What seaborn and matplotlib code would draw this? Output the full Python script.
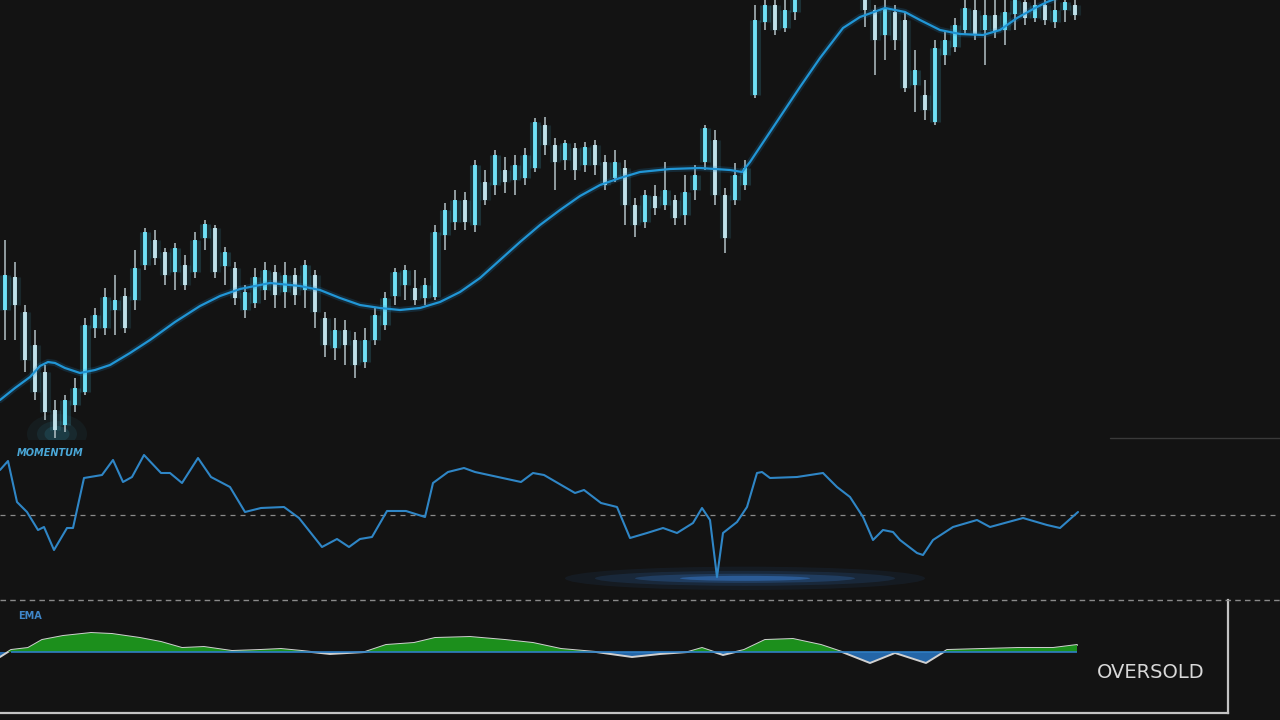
import matplotlib
matplotlib.use("Agg")
import numpy as np
import pandas as pd
import matplotlib.pyplot as plt
import seaborn as sns
from matplotlib.patches import Ellipse
from matplotlib.lines import Line2D

# candle data (one bar per session)
opens = [33.0, 36.3, 32.8, 29.5, 26.8, 23.0, 21.5, 23.5, 24.8, 31.2,
         31.2, 33.0, 34.4, 34.0, 37.5, 40.0, 38.8, 36.8, 37.5, 36.8,
         40.2, 41.2, 37.4, 37.2, 33.0, 33.7, 35.0, 36.8, 34.8, 36.5,
         35.0, 36.5, 32.2, 29.2, 31.0, 30.0, 27.8, 30.0, 31.5, 34.4,
         35.5, 35.2, 34.2, 34.3, 40.5, 41.8, 44.0, 41.5, 45.8, 45.5,
         47.0, 46.0, 46.2, 47.2, 51.5, 49.5, 48.0, 49.2, 47.5, 49.5,
         47.8, 46.2, 47.2, 43.5, 41.8, 44.4, 43.5, 44.0, 42.5, 45.0,
         47.8, 50.0, 44.5, 44.0, 45.5, 54.5, 61.8, 63.5, 61.2, 62.8,
         65.0, 67.0, 68.5, 68.0, 69.5, 67.5, 65.5, 63.0, 60.5, 62.8,
         62.0, 55.5, 54.5, 51.8, 58.5, 59.3, 61.0, 63.0, 61.0, 62.5,
         61.0, 62.6, 63.8, 62.2, 63.5, 61.8, 63.0, 63.5]
highs = [40.0, 37.8, 33.5, 31.0, 27.5, 24.0, 24.5, 26.2, 32.2, 33.2,
         35.2, 36.5, 35.2, 39.0, 41.2, 41.0, 39.2, 39.7, 38.5, 40.8,
         42.0, 41.5, 39.3, 37.8, 35.5, 37.2, 37.8, 37.5, 37.8, 37.2,
         38.0, 37.0, 32.8, 32.2, 32.0, 30.8, 31.2, 33.2, 34.8, 37.2,
         37.5, 37.0, 36.2, 41.5, 43.7, 45.0, 44.8, 48.0, 47.0, 49.0,
         48.3, 48.5, 49.2, 52.2, 52.3, 50.2, 50.0, 49.7, 49.8, 50.0,
         48.5, 49.0, 48.0, 44.2, 45.0, 45.5, 47.8, 44.5, 46.5, 47.5,
         51.5, 51.0, 45.2, 47.7, 48.0, 63.5, 65.0, 64.5, 65.5, 66.5,
         68.5, 70.0, 71.0, 71.5, 71.0, 69.0, 67.0, 63.5, 64.0, 63.5,
         62.8, 59.0, 56.0, 60.0, 61.0, 62.2, 64.0, 64.5, 64.2, 64.0,
         64.5, 65.0, 64.8, 64.5, 64.5, 64.3, 64.8, 64.5]
lows = [30.0, 30.0, 26.8, 24.0, 22.0, 20.2, 20.8, 22.8, 24.5, 30.2,
        30.5, 30.5, 30.7, 33.0, 37.0, 37.5, 35.5, 35.0, 35.0, 36.2,
        39.0, 36.2, 35.5, 33.5, 32.2, 33.2, 34.0, 33.2, 33.2, 33.5,
        33.2, 31.2, 28.3, 28.0, 27.5, 26.2, 27.2, 29.5, 31.0, 33.5,
        34.0, 33.5, 33.5, 34.0, 39.0, 41.0, 41.0, 40.8, 43.5, 44.5,
        44.7, 44.5, 45.5, 46.8, 48.5, 45.0, 47.0, 46.0, 46.8, 46.5,
        45.0, 45.8, 41.5, 40.3, 41.2, 42.5, 43.0, 41.5, 41.5, 44.0,
        47.0, 43.5, 38.7, 43.5, 45.0, 54.2, 61.0, 60.5, 60.8, 62.0,
        64.5, 66.0, 66.5, 67.0, 65.5, 64.5, 61.3, 56.5, 58.0, 59.0,
        54.8, 52.8, 52.0, 51.5, 57.5, 58.8, 60.5, 60.0, 57.5, 60.2,
        59.5, 61.0, 61.5, 61.8, 61.5, 61.2, 61.8, 62.0]
closes = [36.5, 33.5, 28.0, 24.8, 22.8, 21.0, 24.0, 25.2, 31.5, 32.5,
          34.3, 34.0, 31.2, 37.2, 40.8, 38.2, 36.5, 39.2, 35.5, 40.0,
          41.6, 36.8, 38.8, 34.2, 34.8, 36.3, 37.0, 34.5, 36.5, 34.5,
          37.5, 32.8, 29.5, 31.0, 29.5, 27.5, 30.0, 32.5, 34.2, 36.8,
          37.0, 34.0, 35.5, 40.8, 43.0, 44.0, 41.8, 47.5, 44.0, 48.5,
          45.8, 47.5, 48.5, 51.8, 49.5, 47.8, 49.7, 47.0, 49.3, 47.5,
          45.5, 47.8, 43.5, 41.5, 44.5, 43.2, 45.0, 42.2, 44.8, 46.5,
          51.2, 44.5, 40.2, 46.5, 47.2, 62.0, 63.5, 61.0, 63.0, 65.0,
          67.0, 68.5, 68.0, 69.5, 67.5, 66.0, 63.0, 60.0, 63.2, 60.0,
          55.2, 57.0, 53.0, 59.2, 60.0, 61.5, 63.2, 60.5, 62.5, 60.8,
          62.8, 64.0, 62.2, 63.5, 62.0, 63.0, 63.8, 62.5]

# smoothed moving average
ma_bar = [-0.5, 1.0, 2.5, 3.5, 4.3, 5.0, 6.0, 7.5, 9.0, 10.5, 12.5, 14.5,
          17.0, 19.5, 21.5, 23.5, 26.5, 29.5, 31.5, 33.5, 35.5, 37.5, 39.5,
          41.5, 43.5, 45.5, 47.5, 49.5, 51.5, 53.5, 55.5, 57.5, 59.5, 61.5,
          63.5, 66.5, 69.5, 72.5, 73.7, 74.5, 75.5, 77.5, 79.5, 81.5, 83.8,
          85.5, 88.0, 90.0, 91.5, 93.5, 95.5, 97.8, 99.5, 101.2, 103.0,
          104.2, 105.5]
ma_price = [24.0, 25.2, 26.3, 27.4, 27.8, 27.7, 27.2, 26.7, 27.0, 27.5, 28.7,
            30.0, 31.8, 33.4, 34.4, 35.1, 35.7, 35.4, 35.0, 34.2, 33.5, 33.2,
            33.0, 33.2, 33.8, 34.8, 36.2, 38.0, 39.8, 41.5, 43.0, 44.4, 45.5,
            46.2, 46.8, 47.1, 47.2, 47.0, 46.8, 47.8, 49.3, 52.3, 55.3, 58.2,
            61.2, 62.3, 63.2, 62.8, 62.0, 61.0, 60.6, 60.5, 61.0, 62.2, 63.2,
            63.8, 64.3]

# momentum oscillator
osc_bar = [-0.5, 0.3, 1.2, 2.2, 3.3, 3.9, 4.9, 6.2, 6.8, 7.9, 9.7, 10.8, 11.8,
           12.7, 13.9, 15.6, 16.5, 17.7, 19.3, 20.6, 22.5, 24.0, 25.6, 27.9,
           29.4, 31.7, 33.2, 34.4, 35.5, 36.7, 38.2, 40.1, 42.0, 42.8, 44.3,
           45.9, 47.0, 49.3, 51.6, 52.8, 53.9, 57.0, 57.9, 59.6, 61.2, 62.5,
           64.2, 65.8, 67.2, 68.8, 69.7, 70.5, 71.2, 71.8, 73.2, 74.2, 75.2,
           75.7, 76.5, 79.2, 81.8, 83.2, 84.5, 85.8, 86.8, 87.8, 88.8, 89.5,
           91.2, 91.8, 92.8, 94.8, 97.2, 98.5, 101.8, 104.2, 105.5, 107.3]
osc_val = [77.0, 82.4, 57.8, 51.8, 41.0, 42.8, 29.0, 42.2, 42.2, 72.2, 74.0,
           83.0, 69.8, 72.8, 86.0, 75.2, 75.2, 69.2, 84.2, 72.8, 66.8, 51.8,
           54.2, 54.8, 48.2, 30.8, 35.6, 30.8, 35.6, 36.8, 52.4, 52.4, 48.8,
           69.2, 75.8, 78.2, 75.8, 72.8, 69.8, 75.2, 74.0, 63.2, 65.0, 57.2,
           54.8, 36.2, 39.2, 42.2, 39.2, 45.2, 54.2, 47.0, 12.8, 39.2, 45.8,
           54.8, 75.2, 75.8, 72.2, 72.8, 75.2, 66.8, 60.8, 48.8, 35.0, 41.0,
           39.8, 35.0, 27.2, 26.0, 35.0, 42.8, 47.0, 42.8, 48.2, 44.0, 42.2,
           51.8]
osc_mid = 50

# lower histogram
hist_bar = [-0.5, 0.6, 2.3, 3.7, 5.8, 8.6, 10.7, 13.5, 15.6, 17.7, 19.9, 22.7,
            25.5, 27.6, 29.7, 32.5, 36.0, 38.1, 40.9, 43.0, 46.5, 50.0, 52.8,
            55.6, 59.1, 62.7, 65.5, 68.3, 69.7, 71.8, 73.9, 76.0, 78.8, 81.6,
            83.7, 86.5, 89.0, 92.1, 94.2, 97.7, 101.3, 104.8, 107.2]
hist_val = [-0.25, 0.10, 0.20, 0.60, 0.80, 0.95, 0.90, 0.70, 0.50, 0.20, 0.25,
            0.05, 0.10, 0.15, 0.05, -0.10, 0.00, 0.35, 0.45, 0.70, 0.75, 0.60,
            0.45, 0.15, 0.00, -0.25, -0.10, 0.00, 0.20, -0.15, 0.10, 0.60,
            0.65, 0.35, 0.00, -0.55, -0.05, -0.55, 0.10, 0.15, 0.20, 0.20,
            0.35]

panel_labels = ["MOMENTUM", "EMA"]
signal_text = "OVERSOLD"

bg = "#131313"
sns.set_theme(style="dark", rc={"axes.facecolor": bg, "figure.facecolor": bg})

fig = plt.figure(figsize=(12.8, 7.2), dpi=100)
ax_top = fig.add_axes([0, 280 / 720, 1, 440 / 720])
ax_mid = fig.add_axes([0, 120 / 720, 1, 160 / 720])
ax_bot = fig.add_axes([0, 7 / 720, 1228 / 1280, 113 / 720])

for ax in (ax_top, ax_mid, ax_bot):
    ax.set_facecolor(bg)
    ax.set_xticks([])
    ax.set_yticks([])
    ax.grid(False)
    for s in ax.spines.values():
        s.set_visible(False)

# --- price panel
df = pd.DataFrame({"open": opens, "high": highs, "low": lows, "close": closes})
df["bar"] = np.arange(len(df))
up = df["close"] >= df["open"]

# soft glow under the lowest candles
for w, h, a in [(6, 4, 0.05), (4, 2.6, 0.08), (2.5, 1.6, 0.12)]:
    ax_top.add_patch(Ellipse((5.2, 20.6), w, h, color="#3fc8f0", alpha=a, lw=0,
                             zorder=1))

ax_top.vlines(df["bar"], df["low"], df["high"], color="#b3c1c6", lw=1.1, zorder=2)
ax_top.vlines(df["bar"][up], df["open"][up], df["close"][up], color="#4fd0f0",
              lw=8, alpha=0.16, zorder=2)
ax_top.vlines(df["bar"][up], df["open"][up], df["close"][up], color="#6fe2f8",
              lw=2.8, zorder=3)
ax_top.vlines(df["bar"][~up], df["open"][~up], df["close"][~up], color="#4fd0f0",
              lw=8, alpha=0.11, zorder=2)
ax_top.vlines(df["bar"][~up], df["open"][~up], df["close"][~up], color="#bfe3ec",
              lw=2.8, zorder=3)

sns.lineplot(x=ma_bar, y=ma_price, ax=ax_top, color="#1f8fd0", lw=4.5, alpha=0.18,
             zorder=4)
sns.lineplot(x=ma_bar, y=ma_price, ax=ax_top, color="#2196d6", lw=1.6, zorder=5)
ax_top.set_xlim(-0.5, 127.5)
ax_top.set_ylim(20, 64)

# --- oscillator panel
for w, h, a in [(36, 14, 0.07), (30, 9, 0.12), (22, 5.5, 0.22), (13, 3, 0.4)]:
    ax_mid.add_patch(Ellipse((74, 12), w, h, color="#3d8ae8", alpha=a, lw=0,
                             zorder=1))
ax_mid.axhline(osc_mid, color="#8a8a8a", lw=0.9, ls=(0, (4, 4)), zorder=2)
sns.lineplot(x=osc_bar, y=osc_val, ax=ax_mid, color="#2f86c6", lw=1.5, zorder=3)
ax_mid.set_xlim(-0.5, 127.5)
ax_mid.set_ylim(-1, 95)

# --- histogram panel
hb = np.array(hist_bar)
hv = np.array(hist_val)
ax_bot.fill_between(hb, 0, hv, where=hv <= 0, interpolate=True, color="#2466a8",
                    lw=0, zorder=1)
sns.lineplot(x=hist_bar, y=hist_val, ax=ax_bot, color="#d0d0d0", lw=1.4, zorder=2)
ax_bot.fill_between(hb, 0, hv, where=hv >= 0, interpolate=True, color="#1c8f1c",
                    lw=0, zorder=3)
ax_bot.hlines(0, 0.6, 107.2, color="#2f7fc4", lw=1.2, zorder=4)
ax_bot.set_xlim(-0.5, 122.3)
ax_bot.set_ylim(-3.05, 2.6)
for side in ("right", "bottom"):
    ax_bot.spines[side].set_visible(True)
    ax_bot.spines[side].set_color("#c4c4c4")
    ax_bot.spines[side].set_linewidth(1.6)

# panel separators
fig.add_artist(Line2D([0, 1], [120 / 720, 120 / 720], transform=fig.transFigure,
                      color="#8a8a8a", lw=1, ls=(0, (4, 3))))
fig.add_artist(Line2D([1110 / 1280, 1], [282 / 720, 282 / 720],
                      transform=fig.transFigure, color="#3a3a3a", lw=1))

# labels
fig.text(17 / 1280, 1 - 453 / 720, panel_labels[0], color="#4aa8d8", fontsize=7,
         style="italic", weight="bold", va="center")
fig.text(18 / 1280, 1 - 616 / 720, panel_labels[1], color="#3f86c8", fontsize=7,
         weight="bold", va="center")
fig.text(1151 / 1280, 1 - 672 / 720, signal_text, color="#d8d8d8", fontsize=14,
         ha="center", va="center")

fig.savefig("out.png", dpi=100, facecolor=bg)
